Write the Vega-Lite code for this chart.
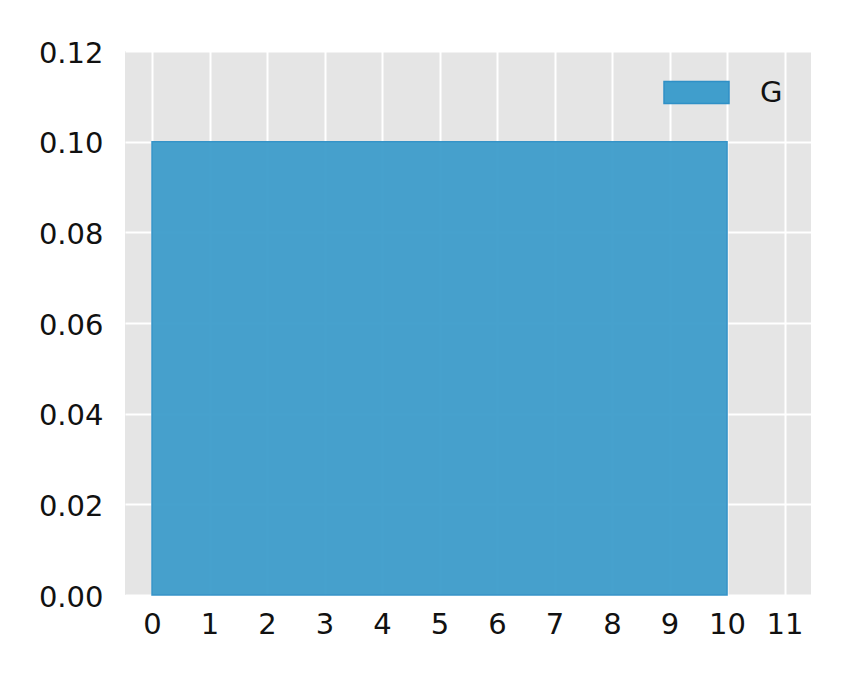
{
  "$schema": "https://vega.github.io/schema/vega-lite/v6.json",
  "width": 686,
  "height": 544,
  "autosize": "none",
  "padding": {"left": 125, "top": 51, "right": 36, "bottom": 83},
  "background": "white",
  "config": {
    "view": {"fill": "#E5E5E5", "stroke": null},
    "font": "DejaVu Sans",
    "axis": {
      "grid": true,
      "gridColor": "#FFFFFF",
      "gridWidth": 2,
      "domain": false,
      "ticks": false,
      "labelFont": "DejaVu Sans",
      "labelFontSize": 29,
      "labelColor": "#111111",
      "title": null
    }
  },
  "data": {
    "values": [
      {"bin_start": 0, "bin_end": 10, "density": 0.1, "series": "G"}
    ]
  },
  "mark": {
    "type": "bar",
    "opacity": 0.96,
    "stroke": "#2f90c6",
    "strokeWidth": 1.5
  },
  "encoding": {
    "x": {
      "field": "bin_start",
      "type": "quantitative",
      "scale": {"domain": [-0.47, 11.46], "nice": false, "zero": false},
      "axis": {
        "values": [0, 1, 2, 3, 4, 5, 6, 7, 8, 9, 10, 11],
        "labelPadding": 15,
        "labelFlush": false
      }
    },
    "x2": {"field": "bin_end"},
    "y": {
      "field": "density",
      "type": "quantitative",
      "scale": {"domain": [0, 0.12], "nice": false},
      "axis": {
        "values": [0, 0.02, 0.04, 0.06, 0.08, 0.1, 0.12],
        "format": ".2f",
        "labelPadding": 22,
        "labelBaseline": "middle",
        "labelOffset": 2
      }
    },
    "y2": {"datum": 0},
    "color": {
      "field": "series",
      "type": "nominal",
      "scale": {"range": ["#409ecc"]},
      "legend": {
        "title": null,
        "orient": "none",
        "legendX": 538,
        "legendY": 8,
        "padding": 0,
        "symbolType": "M-1,-0.34H1V0.34H-1Z",
        "symbolSize": 4225,
        "symbolStrokeColor": "#2f90c6",
        "symbolStrokeWidth": 1.5,
        "symbolOpacity": 1,
        "labelFontSize": 29,
        "labelFont": "DejaVu Sans",
        "labelColor": "#111111",
        "labelOffset": 30
      }
    }
  }
}
